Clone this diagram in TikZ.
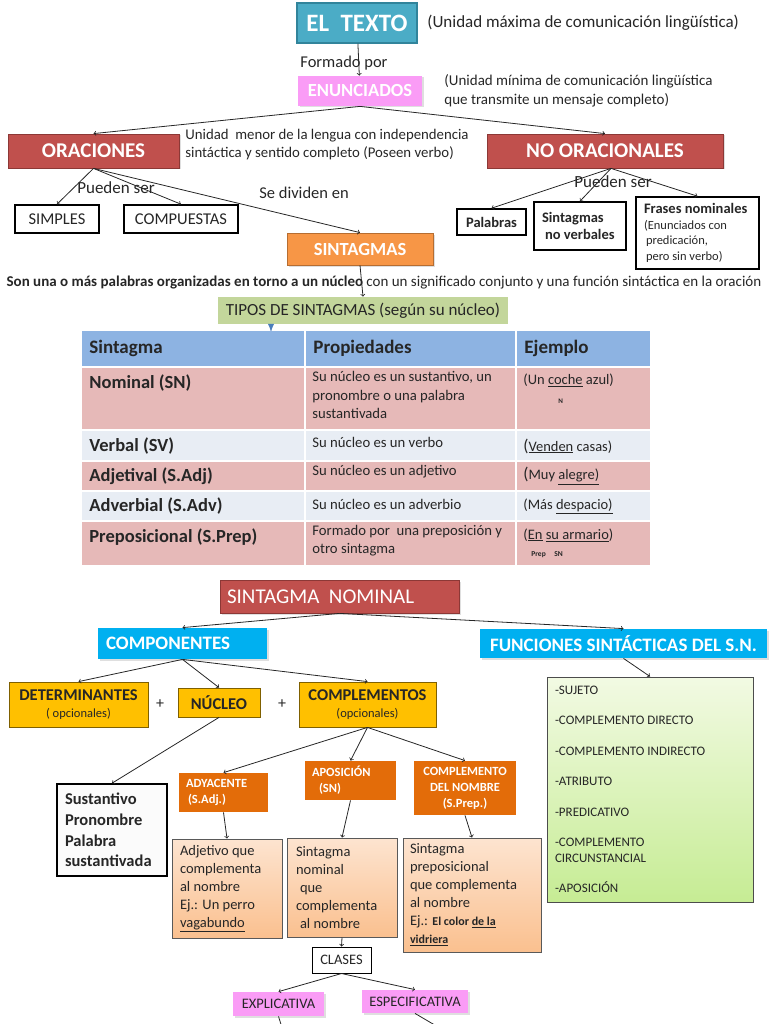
\documentclass[tikz,border=0pt]{standalone}
\usepackage{fontspec}
\setmainfont{Carlito}
\usepackage{tikz}
\usetikzlibrary{positioning}
\usetikzlibrary{arrows, shadows}
\usepackage{xcolor}
\definecolor{teal1}{HTML}{4BACC6}
\definecolor{teal2}{HTML}{31849B}
\definecolor{rose}{HTML}{FA9CF6}
\definecolor{brick}{HTML}{C0504D}
\definecolor{brick2}{HTML}{8C3836}
\definecolor{tang}{HTML}{F79646}
\definecolor{tang2}{HTML}{B66D31}
\definecolor{olive}{HTML}{C3D69B}
\definecolor{hdrblue}{HTML}{8DB3E2}
\definecolor{rowpink}{HTML}{E6B9B8}
\definecolor{rowgrey}{HTML}{E8EDF4}
\definecolor{steel}{HTML}{4A7EBB}
\definecolor{sky}{HTML}{00B0F0}
\definecolor{gold}{HTML}{FFC000}
\definecolor{gold2}{HTML}{7F6000}
\definecolor{rust}{HTML}{E36C09}
\definecolor{peach1}{HTML}{FDE4D0}
\definecolor{peach2}{HTML}{FAC08F}
\definecolor{lime1}{HTML}{F2FAE3}
\definecolor{lime2}{HTML}{C6EC94}
\definecolor{ink}{HTML}{262626}
\newcommand{\fsz}[2]{\fontsize{#1}{#2}\selectfont}

\begin{document}
\begin{tikzpicture}[x=1pt, y=-1pt, line width=0.8pt,
  head/.style = {rectangle, text=white, inner sep=2pt},
  soft/.style = {drop shadow={opacity=0.25, shadow xshift=1.5pt, shadow yshift=-1.5pt}},
  plainbox/.style = {draw, rectangle, line width=1.6pt, fill=white, text=ink, inner sep=2pt},
  note/.style = {inner sep=0pt, align=left, text=ink},
  cell/.style = {anchor=west, inner sep=0pt, text=ink, align=left},
  goldbox/.style = {draw=gold2, rectangle, fill=gold, text=ink, align=center, inner sep=1pt},
  rustbox/.style = {rectangle, fill=rust, text=white, inner sep=2pt, font=\fsz{12.5}{16}\bfseries},
  peachbox/.style = {draw=gray!70!black, line width=1pt, top color=peach1, bottom color=peach2, align=flush left, text=ink, font=\fsz{14.5}{18}},
  link/.style = {->, draw=ink}]
\useasboundingbox (0,0) rectangle (768,1024);

\node[head, fill=teal1, draw=teal2, line width=1.2pt, minimum width=120pt, minimum height=40pt, font=\fsz{25}{28}\bfseries] (texto) at (357,23) {EL~~TEXTO};
\node[note, anchor=west, font=\fsz{17}{20}] (textonota) at (427,23) {(Unidad máxima de comunicación lingüística)};
\node[note, anchor=west, font=\fsz{16.5}{19}] (formado) at (300,63) {Formado por};
\node[head, soft, fill=rose, minimum width=124pt, minimum height=30pt, font=\fsz{18.5}{21}\bfseries] (enun) at (360,91) {ENUNCIADOS};
\node[note, anchor=north west, font=\fsz{15}{19}] (enunnota) at (444,74) {(Unidad mínima de comunicación lingüística\\que transmite un mensaje completo)};

\node[head, soft, fill=brick, draw=brick2, minimum width=171pt, minimum height=34pt, font=\fsz{21}{24}\bfseries] (orac) at (93.5,151) {ORACIONES};
\node[note, anchor=north west, font=\fsz{14.8}{17.5}] (oracnota) at (185,129) {Unidad~~menor de la lengua con independencia\\sintáctica y sentido completo (Poseen verbo)};
\node[head, soft, fill=brick, draw=brick2, minimum width=236pt, minimum height=34pt, font=\fsz{21}{24}\bfseries] (noorac) at (605,151) {NO ORACIONALES};

\node[plainbox, minimum width=84pt, minimum height=28pt, font=\fsz{16.5}{19}] (simples) at (57,219) {SIMPLES};
\node[plainbox, minimum width=114pt, minimum height=28pt, font=\fsz{16.5}{19}] (compuestas) at (181,219) {COMPUESTAS};
\node[note, font=\fsz{17}{19}] (pueden1) at (116,188) {Pueden ser};
\node[note, font=\fsz{16.5}{19}] (dividen) at (304,193) {Se dividen en};
\node[head, soft, fill=tang, draw=tang2, minimum width=146pt, minimum height=32pt, font=\fsz{18.5}{21}\bfseries] (sint) at (360,249) {SINTAGMAS};

\node[note, font=\fsz{17}{19}] (pueden2) at (613,182) {Pueden ser};
\node[plainbox, minimum width=69pt, minimum height=26pt, font=\fsz{14.5}{17}\bfseries] (palabras) at (491.5,222) {Palabras};
\node[plainbox, text width=80pt, inner xsep=6pt, minimum height=48pt, align=flush left, font=\fsz{14.5}{16.5}\bfseries] (sintnv) at (580,226) {\hspace*{2pt}Sintagmas\\\hspace*{5pt}no verbales};
\node[plainbox, text width=107pt, inner xsep=8pt, minimum height=72pt, align=flush left, font=\fsz{14.5}{15.5}\bfseries] (frases) at (697.5,233) {Frases nominales\\{\fsz{12.5}{15.5}\mdseries (Enunciados con\\\hspace*{2pt}predicación,\\\hspace*{2pt}pero sin verbo)}};

\node[note, font=\fsz{15}{17}] (defi) at (384,283) {\textbf{Son una o más palabras organizadas en torno a un núcleo} con un significado conjunto y una función sintáctica en la oración};
\node[head, fill=olive, text=ink, minimum width=290pt, minimum height=27pt, font=\fsz{17}{20}] (tipos) at (363,310.5) {TIPOS DE SINTAGMAS (según su núcleo)};
\coordinate (tabla) at (271,332);
\draw[-latex, line width=1.8pt, steel] (tipos.south -| tabla) -- (tabla);

\fill[hdrblue] (82,331) rectangle (650,366);
\fill[rowpink] (82,368) rectangle (650,430);
\fill[rowgrey] (82,430) rectangle (650,461);
\fill[rowpink] (82,461) rectangle (650,491);
\fill[rowgrey] (82,491) rectangle (650,521);
\fill[rowpink] (82,521) rectangle (650,565);
\draw[white, line width=1.5pt] (305,331) -- (305,565) (516,331) -- (516,565)
  (82,430) -- (650,430) (82,461) -- (650,461) (82,491) -- (650,491) (82,521) -- (650,521);

\node[cell, font=\fsz{19}{22}\bfseries] (h1) at (89,348) {Sintagma};
\node[cell, font=\fsz{19}{22}\bfseries] (h2) at (313,348) {Propiedades};
\node[cell, font=\fsz{19}{22}\bfseries] (h3) at (524,348) {Ejemplo};

\node[cell, font=\fsz{18.5}{22}\bfseries] (r1) at (89,383) {Nominal (SN)};
\node[cell, anchor=north west, font=\fsz{14.7}{18.5}] (p1) at (312,371) {Su núcleo es un sustantivo, un\\pronombre o una palabra\\sustantivada};
\node[cell, font=\fsz{14.5}{17}] (e1) at (523,380) {(Un \underline{coche} azul)};
\node[cell, font=\fsz{7}{8}\bfseries] (e1b) at (558,401) {N};

\node[cell, font=\fsz{18.5}{22}\bfseries] (r2) at (89,446) {Verbal (SV)};
\node[cell, font=\fsz{14.7}{17}] (p2) at (312,442) {Su núcleo es un verbo};
\node[cell, font=\fsz{14.5}{17}] (e2) at (523,446) {{\fsz{17}{17}(}\underline{Venden} casas)};

\node[cell, font=\fsz{18.5}{22}\bfseries] (r3) at (89,476) {Adjetival (S.Adj)};
\node[cell, font=\fsz{14.7}{17}] (p3) at (312,472) {Su núcleo es un adjetivo};
\node[cell, font=\fsz{14.5}{17}] (e3) at (523,476) {{\fsz{17}{17}(}Muy \underline{alegre)}};

\node[cell, font=\fsz{18.5}{22}\bfseries] (r4) at (89,506) {Adverbial (S.Adv)};
\node[cell, font=\fsz{14.7}{17}] (p4) at (312,504) {Su núcleo es un adverbio};
\node[cell, font=\fsz{14.5}{17}] (e4) at (523,506) {(Más \underline{despacio)}};

\node[cell, font=\fsz{18.5}{22}\bfseries] (r5) at (89,537) {Preposicional (S.Prep)};
\node[cell, anchor=north west, font=\fsz{14.7}{18}] (p5) at (312,525) {Formado por~~una preposición y\\otro sintagma};
\node[cell, font=\fsz{14.5}{17}] (e5) at (523,535) {(\underline{En} \underline{su armario})};
\node[cell, font=\fsz{7.5}{8}\bfseries] (e5b) at (531,555) {Prep~~~~~SN};

\node[head, soft, fill=brick, draw=brick2, minimum height=33pt, text width=225pt, inner xsep=7pt, align=flush left, font=\fsz{21}{24}] (snom) at (339.5,596.5) {SINTAGMA~~NOMINAL};
\node[head, soft, fill=sky, minimum height=31pt, text width=153pt, inner xsep=8pt, align=flush left, font=\fsz{19}{22}\bfseries] (compo) at (182.5,643.5) {COMPONENTES};
\node[head, soft, fill=sky, minimum width=287pt, minimum height=29pt, font=\fsz{19}{22}\bfseries] (func) at (623.5,643.5) {FUNCIONES SINTÁCTICAS DEL S.N.};

\node[goldbox, minimum width=139pt, minimum height=45pt, font=\fsz{16.5}{17}\bfseries] (det) at (78.5,704.5) {DETERMINANTES\\{\fsz{12.5}{14}\mdseries ( opcionales)}};
\node[note, font=\fsz{16}{18}] (mas1) at (160,704) {+};
\node[goldbox, minimum width=82pt, minimum height=29pt, font=\fsz{16.5}{19}\bfseries] (nuc) at (219,702.5) {NÚCLEO};
\node[note, font=\fsz{16}{18}] (mas2) at (282,704) {+};
\node[goldbox, minimum width=137pt, minimum height=45pt, font=\fsz{16.5}{17}\bfseries] (compl) at (367.5,704.5) {COMPLEMENTOS\\{\fsz{12.5}{14}\mdseries (opcionales)}};

\node[plainbox, fill=gray!3, text width=94pt, inner xsep=8pt, minimum height=92pt, align=flush left, font=\fsz{16.5}{20.7}\bfseries] (sust) at (112,830) {Sustantivo\\Pronombre\\Palabra\\sustantivada};

\node[rustbox, text width=75pt, inner xsep=7pt, minimum height=39pt, align=flush left] (ady) at (223.5,792.5) {ADYACENTE\\\hspace*{2pt}(S.Adj.)};
\node[rustbox, text width=77pt, inner xsep=7pt, minimum height=39pt, align=flush left] (apos) at (350.5,780.5) {APOSICIÓN\\\hspace*{7pt}(SN)};
\node[rustbox, minimum width=102pt, minimum height=54pt, align=center] (cdn) at (465,788) {COMPLEMENTO\\DEL NOMBRE\\(S.Prep.)};

\node[peachbox, text width=94pt, inner xsep=8pt, minimum height=99pt] (adjbox) at (227,888.5) {Adjetivo que\\complementa\\al nombre\\Ej.: Un perro\\\underline{vagabundo}};
\node[peachbox, text width=92pt, inner xsep=9pt, minimum height=99pt] (snbox) at (342,887.5) {Sintagma\\nominal\\\hspace*{4pt}que\\complementa\\\hspace*{4pt}al nombre};
\node[peachbox, text width=124pt, inner xsep=7pt, minimum height=114pt] (cdnbox) at (472,895) {Sintagma\\preposicional\\que complementa\\al nombre\\Ej.: {\fsz{12}{14}\bfseries El color \underline{de la}}\\{\fsz{12}{14}\bfseries\underline{vidriera}}};

\node[plainbox, line width=1pt, minimum width=59pt, minimum height=26pt, font=\fsz{14.5}{17}] (clases) at (341.5,960) {CLASES};
\node[head, soft, fill=rose, text=ink, minimum width=91pt, minimum height=24pt, font=\fsz{14.5}{17}] (expl) at (278.5,1004) {EXPLICATIVA};
\node[head, soft, fill=rose, text=ink, minimum width=106pt, minimum height=23pt, font=\fsz{14.5}{17}] (espec) at (415,1001.5) {ESPECIFICATIVA};
\coordinate (sale1) at (284,1034);
\coordinate (sale2) at (450,1034);

\node[draw=gray!60!black, line width=1pt, top color=lime1, bottom color=lime2, minimum height=225pt, text width=190pt, inner xsep=8pt, align=flush left, text=ink, font=\fsz{13}{15.5}] (lista) at (650,789.5) {-SUJETO\\[15pt]-COMPLEMENTO DIRECTO\\[15pt]-COMPLEMENTO INDIRECTO\\[15pt]-ATRIBUTO\\[15pt]-PREDICATIVO\\[15pt]-COMPLEMENTO\\CIRCUNSTANCIAL\\[15pt]-APOSICIÓN};

\path (texto) edge [link] (enun);
\path (enun.south) edge [link] (orac.north);
\path (enun.south) edge [link] (noorac.north);
\path (orac.south) edge [link] (simples.north);
\path (orac.south) edge [link] (compuestas.north);
\path (orac.south) edge [link] (sint.north);
\path ([xshift=6pt]noorac.south) edge [link] (palabras.north);
\path ([xshift=6pt]noorac.south) edge [link] (sintnv.north);
\path ([xshift=6pt]noorac.south) edge [link] (frases.north);
\path (sint.south) edge [link] (tipos.north);
\path (snom.south) edge [link] (compo.north);
\path (snom.south) edge [link] (func.north);
\path (compo.south) edge [link] (det.north);
\path (compo.south) edge [link] (nuc.north);
\path (compo.south) edge [link] (compl.north);
\path (nuc.south) edge [link] (sust.north);
\path (compl.south) edge [link] (ady.north);
\path (compl.south) edge [link] (apos.north);
\path (compl.south) edge [link] (cdn.north);
\path (ady.south) edge [link] (adjbox.north);
\path (apos.south) edge [link] (snbox.north);
\path (cdn.south) edge [link] (cdnbox.north);
\path (func.south) edge [link] (lista.north);
\path (snbox.south) edge [link] (clases.north);
\path (clases.south) edge [link] (expl.north);
\path (clases.south) edge [link] (espec.north);
\path (expl.south) edge [link] (sale1);
\path (espec.south) edge [link] (sale2);
\end{tikzpicture}
\end{document}
